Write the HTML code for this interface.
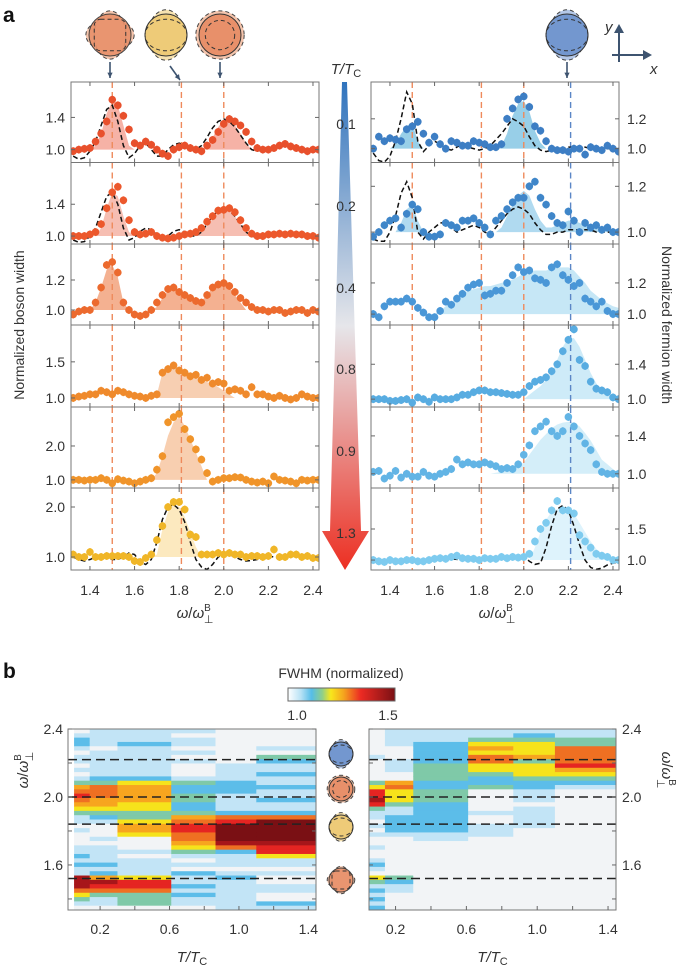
<!DOCTYPE html>
<html><head><meta charset="utf-8"><style>
html,body{margin:0;padding:0;background:#fff}
svg{display:block;font-family:"Liberation Sans",sans-serif}
</style></head><body>
<svg id="fig" width="685" height="968" viewBox="0 0 685 968" xmlns="http://www.w3.org/2000/svg">
<defs>
<linearGradient id="tgrad" x1="0" y1="0" x2="0" y2="1">
<stop offset="0" stop-color="#2f73bd"/><stop offset="0.5" stop-color="#e6e6ea"/><stop offset="1" stop-color="#ec2f22"/>
</linearGradient>
<linearGradient id="cbar" x1="0" y1="0" x2="1" y2="0">
<stop offset="0" stop-color="#ffffff"/><stop offset="0.12" stop-color="#b8e2f5"/><stop offset="0.22" stop-color="#55bde8"/><stop offset="0.32" stop-color="#8fcf8a"/><stop offset="0.4" stop-color="#f8e71c"/><stop offset="0.52" stop-color="#f5a41e"/><stop offset="0.68" stop-color="#ec2a23"/><stop offset="1" stop-color="#7a1014"/>
</linearGradient>
</defs>
<g id="layer"></g>
</svg>
<script>
// ---------- DATA ----------
const omegaGrid=[1.325,1.35,1.375,1.4,1.425,1.45,1.475,1.5,1.525,1.55,1.575,1.6,1.625,1.65,1.675,1.7,1.725,1.75,1.775,1.8,1.825,1.85,1.875,1.9,1.925,1.95,1.975,2.0,2.025,2.05,2.075,2.1,2.125,2.15,2.175,2.2,2.225,2.25,2.275,2.3,2.325,2.35,2.375,2.4,2.425];
const tempLabels=["0.1","0.2","0.4","0.8","0.9","1.3"];
const xTicks=[1.4,1.6,1.8,2.0,2.2,2.4];
const refLines=[1.5,1.81,2.0];
const fermionLine=2.21;

const bosonPts1=[0.98,1.0,1.01,1.02,1.1,1.2,1.35,1.62,1.55,1.42,1.25,1.08,1.05,1.1,1.06,1.0,0.95,0.92,1.0,1.03,1.05,1.02,1.0,0.98,1.05,1.12,1.22,1.32,1.38,1.35,1.3,1.22,1.1,1.02,1.0,1.0,1.02,1.05,1.07,1.04,1.02,1.0,0.98,1.0,1.0];
const bosonFill1=[1,1,1,1,1.05,1.2,1.45,1.6,1.55,1.3,1.05,1,1,1,1,1,1,1,1,1,1,1,1,1,1.05,1.15,1.28,1.37,1.36,1.3,1.2,1.08,1];
const bosonModel1=[0.92,0.88,0.9,0.98,1.1,1.3,1.5,1.55,1.35,1.05,0.9,0.95,1.05,1.08,1.0,0.92,0.92,1.0,1.06,1.08,1.05,1.0,1.0,1.05,1.15,1.27,1.35,1.38,1.35,1.28,1.18,1.08,1.0,0.98,1.0,1.02,1.04,1.05,1.05,1.04,1.03,1.02,1.0,1.0,1.0];

const bosonPts2=[1.0,1.0,1.0,1.02,1.05,1.15,1.35,1.55,1.62,1.45,1.2,1.05,1.02,1.03,1.05,1.0,0.98,0.97,0.98,1.0,1.02,1.03,1.05,1.1,1.18,1.25,1.32,1.33,1.35,1.3,1.2,1.1,1.03,1.0,1.0,1.02,1.02,1.03,1.02,1.03,1.02,1.02,1.0,1.0,0.98];
const bosonFill2=[1,1,1,1,1,1.1,1.35,1.55,1.5,1.25,1.05,1,1,1,1,1,1,1,1,1,1,1,1,1.05,1.12,1.22,1.3,1.35,1.33,1.25,1.15,1.05,1];
const bosonModel2=[0.95,0.92,0.93,1.0,1.1,1.3,1.5,1.55,1.4,1.1,0.95,0.98,1.06,1.1,1.08,1.02,0.98,1.0,1.06,1.08,1.05,1.0,1.0,1.05,1.15,1.25,1.32,1.35,1.32,1.25,1.15,1.05,1.0,0.98,1.0,1.02,1.04,1.05,1.05,1.04,1.03,1.02,1.01,1.0,1.0];

const bosonPts3=[0.97,0.99,1.0,1.0,1.05,1.15,1.3,1.32,1.25,1.05,1.0,0.97,0.96,0.97,1.0,1.05,1.1,1.14,1.15,1.12,1.1,1.08,1.06,1.05,1.1,1.15,1.17,1.18,1.16,1.12,1.08,1.05,1.02,1.0,1.0,0.99,1.0,1.0,0.98,0.99,1.0,1.0,0.98,1.0,0.99];
const bosonFill3=[1,1,1,1,1.05,1.15,1.27,1.3,1.22,1.05,1,1,1,1,1,1.02,1.08,1.13,1.15,1.12,1.1,1.07,1.05,1.06,1.1,1.15,1.17,1.18,1.15,1.1,1.05,1];

const bosonPts4=[1.0,1.02,1.03,1.05,1.05,1.1,1.08,1.05,1.1,1.08,1.05,1.03,1.02,1.0,1.03,1.05,1.35,1.4,1.45,1.38,1.35,1.3,1.32,1.25,1.28,1.2,1.22,1.2,1.1,1.12,1.1,1.05,1.15,1.05,1.05,1.02,1.0,1.03,1.0,0.98,1.0,1.05,1.02,1.0,1.0];
const bosonFill4=[1,1,1,1,1,1,1,1,1,1,1,1,1,1,1,1.05,1.35,1.4,1.42,1.4,1.35,1.3,1.28,1.25,1.22,1.2,1.15,1.1,1.05,1];

const bosonPts5=[1.0,1.0,0.98,1.0,1.0,1.05,1.0,0.9,1.02,0.98,0.95,0.9,0.95,1.0,1.05,1.3,1.7,2.7,2.85,2.95,2.5,2.2,1.9,1.6,1.2,0.95,1.0,1.05,1.05,1.08,1.07,1.0,0.95,0.92,0.95,0.9,1.1,1.0,0.98,0.95,0.9,1.0,0.98,1.0,1.0];
const bosonFill5=[1,1,1,1,1,1,1,1,1,1,1,1,1,1,1.0,1.2,1.7,2.3,2.7,2.85,2.6,2.2,1.8,1.4,1.0,1,1,1.05,1.05,1.05,1.05,1];

const bosonPts6=[1.05,1.0,1.0,1.1,1.0,1.0,1.02,1.02,1.02,1.02,1.0,0.92,0.9,0.98,1.05,1.34,1.62,2.0,2.1,2.1,1.95,1.45,1.4,1.05,1.05,1.05,1.08,1.05,1.08,1.05,1.05,1.0,1.02,1.02,1.0,1.02,1.15,1.0,1.0,1.05,1.05,1.0,1.02,0.98,0.98];
const bosonFill6=[1,1,1,1,1,1,1,1,1,1,1,1,1,1,1,1.05,1.55,1.9,2.05,2.0,1.8,1.5,1.2,1.0];
const bosonModel6=[1.0,0.95,0.92,0.95,1.0,1.05,1.0,0.95,0.95,1.0,1.08,1.05,0.9,0.85,0.95,1.3,1.75,2.0,2.05,1.95,1.7,1.3,0.95,0.8,0.75,0.85,1.0,1.05,1.05,1.0,0.95,0.92,0.93,0.95,1.0,1.02,1.0,0.98,1.0,1.05,1.05,1.02,1.0,0.98,0.97];

const fermionPts1=[1.0,1.08,1.05,1.07,1.06,1.05,1.13,1.15,1.18,1.1,1.04,1.08,1.03,1.0,1.05,1.04,1.02,1.02,1.05,1.04,1.03,1.01,1.01,1.03,1.2,1.27,1.33,1.35,1.28,1.15,1.12,1.05,1.0,0.99,0.99,0.98,1.0,1.0,0.96,1.01,1.0,0.99,1.02,1.0,0.98];
const fermionFill1=[1,1,1,1,1.03,1.1,1.15,1.17,1.05,1,1,1,1,1,1,1,1,1,1,1,1,1,1,1.02,1.1,1.22,1.3,1.32,1.25,1.12,1.04,1];
const fermionModel1=[0.97,0.92,0.91,0.95,1.05,1.2,1.38,1.3,1.05,0.98,1.02,1.05,1.03,1.0,0.99,1.01,1.03,1.01,1.0,0.99,1.0,1.02,1.06,1.1,1.15,1.2,1.18,1.15,1.08,1.02,0.99,0.98,0.99,1.0,1.0,1.01,1.01,1.01,1.01,1.0,1.0,1.0,1.0,1.0,1.0];

const fermionPts2=[0.98,1.0,1.03,1.05,1.06,1.02,1.08,1.12,1.1,1.0,0.98,0.98,0.99,1.04,1.03,1.02,1.05,1.05,1.06,1.04,1.02,0.99,1.05,1.07,1.1,1.13,1.15,1.15,1.2,1.22,1.15,1.12,1.07,1.04,1.03,1.09,1.05,1.0,1.04,1.02,1.03,1.01,1.02,1.0,1.0];
const fermionFill2=[1,1,1,1,1,1.04,1.1,1.12,1.05,1,1,1,1,1,1,1,1,1,1,1,1,1,1,1.02,1.07,1.12,1.16,1.18,1.16,1.1,1.05,1.02,1.02,1.03,1.04,1.05,1.05,1.04,1.03,1.02,1.015,1.01,1.005,1,1];
const fermionModel2=[0.97,0.96,0.96,1.0,1.07,1.17,1.22,1.15,1.0,0.97,1.0,1.02,1.04,1.04,1.02,1.0,1.01,1.02,1.03,1.02,1.0,0.99,1.02,1.05,1.08,1.1,1.11,1.1,1.08,1.04,1.01,0.99,0.99,1.0,1.0,1.01,1.01,1.01,1.01,1.01,1.0,1.0,1.0,1.0,1.0];

const fermionPts3=[1.0,0.98,1.05,1.08,1.08,1.08,1.1,1.08,1.04,1.01,0.98,0.98,1.02,1.08,1.06,1.1,1.13,1.17,1.19,1.2,1.12,1.13,1.15,1.15,1.2,1.25,1.3,1.27,1.28,1.23,1.22,1.2,1.3,1.32,1.25,1.22,1.18,1.2,1.1,1.08,1.05,1.08,1.02,1.0,1.0];
const fermionFill3=[1,1,1,1,1,1,1,1,1,1,1,1,1.02,1.05,1.08,1.1,1.13,1.15,1.16,1.17,1.18,1.18,1.19,1.2,1.21,1.22,1.24,1.26,1.27,1.28,1.28,1.28,1.29,1.3,1.3,1.3,1.28,1.24,1.2,1.15,1.12,1.09,1.07,1.05,1.04];

const fermionPts4=[1.0,1.0,1.0,0.98,0.98,0.99,1.0,0.96,1.02,1.0,0.97,1.02,1.0,1.0,1.0,1.02,1.05,1.05,1.08,1.1,1.1,1.08,1.08,1.07,1.06,1.05,1.05,1.08,1.15,1.2,1.22,1.25,1.32,1.4,1.55,1.68,1.8,1.45,1.38,1.2,1.12,1.1,1.08,1.02,1.0];
const fermionFill4=[1,1,1,1,1,1,1,1,1,1,1,1,1,1,1,1,1,1,1,1,1,1,1,1,1,1,1,1.0,1.05,1.1,1.15,1.22,1.3,1.45,1.6,1.7,1.7,1.6,1.45,1.3,1.18,1.1,1.05,1.02,1];

const fermionPts5=[1.02,1.03,0.95,0.98,1.03,0.96,1.0,0.97,0.97,1.02,0.98,0.97,1.0,1.02,1.05,1.15,1.1,1.12,1.1,1.1,1.12,1.1,1.08,1.05,1.06,1.05,1.1,1.2,1.3,1.45,1.5,1.55,1.45,1.4,1.45,1.6,1.5,1.4,1.32,1.25,1.1,1.02,1.0,1.0,1.0];
const fermionFill5=[1,1,1,1,1,1,1,1,1,1,1,1,1,1,1,1,1,1,1,1,1,1,1.01,1.02,1.03,1.05,1.08,1.12,1.2,1.28,1.36,1.42,1.48,1.52,1.54,1.55,1.54,1.5,1.43,1.35,1.25,1.15,1.1,1.05,1];

const fermionPts6=[1.0,0.98,0.97,1.0,0.98,0.98,1.0,1.0,0.98,0.98,1.0,1.02,1.03,1.02,1.05,1.07,1.03,1.02,1.02,1.0,1.03,1.02,1.02,1.05,1.03,1.05,1.04,1.05,1.1,1.3,1.5,1.6,1.8,1.95,1.8,1.8,1.75,1.4,1.3,1.2,1.1,1.07,1.05,1.0,1.0];
const fermionFill6=[1,1,1,1,1,1,1,1,1,1,1,1,1,1,1,1,1,1,1,1,1,1,1,1,1,1,1,1,1.0,1.2,1.45,1.65,1.78,1.82,1.85,1.82,1.75,1.6,1.45,1.3,1.18,1.1,1.05,1.02,1];
const fermionModel6=[1.0,1.0,1.0,1.0,0.98,1.0,1.0,1.0,0.98,0.99,1.0,1.01,1.01,1.02,1.02,1.01,1.0,1.0,1.01,1.03,1.02,1.0,1.01,1.05,1.06,1.04,1.02,1.08,0.98,0.93,0.95,1.2,1.55,1.82,1.88,1.8,1.55,1.25,1.0,0.88,0.85,0.87,0.92,0.95,0.97];

// heatmap: levels 0-9 per omega bin (top 2.40 -> bottom), 6 temperature columns
const heatBins=42;
const heatColEdges=[0.05,0.14,0.3,0.61,0.865,1.1,1.455];
const heatTicks=[0.2,0.6,1.0,1.4];
const heatYTicks=[2.4,2.0,1.6];
const heatLines=[2.22,2.0,1.84,1.52];
const bosonHeat=[
"012210110101356765431101000112121188864310",
"111101111112366655432100010111121258763110",
"111211111112455554433455400010111147763330",
"101101010001322332235677665431010211212110",
"000000001111222111126799998621110121111111",
"000010321121121121126999998774110100110021"];
const fermionHeat=[
"000000100000347787311010100100121043121212",
"111100011100564443112222100000000032110000",
"111222223333223332222222110000000000000000",
"113454664432230000010011100000000000000000",
"123444534443221110111110000000000000000000",
"113366667543210000000000000000000000000000"];

// ---------- HELPERS ----------
const NS="http://www.w3.org/2000/svg";
const root=document.getElementById('layer');
function mk(tag,attrs,parent,text){const e=document.createElementNS(NS,tag);for(const k in attrs)e.setAttribute(k,attrs[k]);if(text!==undefined)e.textContent=text;(parent||root).appendChild(e);return e;}
function padTo(a,n){const r=a.slice(0,n);while(r.length<n)r.push(1);return r;}

const rowTops=[82,162.5,244,325,407,488,570];
const leftX=[71,319], rightX=[371,619];
const xDomain=[1.315,2.427];
const leftScales=[[0.84,1.84],[0.9,1.925],[0.9,1.44],[0.875,2.01],[0.76,3.15],[0.74,2.38]];
const rightScales=[[0.907,1.447],[0.948,1.304],[0.93,1.45],[0.91,1.85],[0.85,1.705],[0.84,2.16]];
const leftTicks=[[1.0,1.4],[1.0,1.4],[1.0,1.2],[1.0,1.5],[1.0,2.0],[1.0,2.0]];
const rightTicks=[[1.0,1.2],[1.0,1.2],[1.0,1.2],[1.0,1.4],[1.0,1.4],[1.0,1.5]];
const leftCol=[["#e8502c","#f4a496"],["#ec582c","#f5b3a4"],["#ec6a2e","#f2a37e"],["#ef8a2c","#f6c7a4"],["#f0942a","#f7c7a2"],["#f0b628","#fbe5b4"]];
const rightCol=[["#3d7ec4","#86c7e4"],["#3f86c9","#a2d4ed"],["#4a97d7","#bce3f5"],["#58ace1","#c6e8f7"],["#62b4e5","#ccebf8"],["#7ecbef","#d8f1fb"]];
const bosonPts=[bosonPts1,bosonPts2,bosonPts3,bosonPts4,bosonPts5,bosonPts6];
const bosonFill=[bosonFill1,bosonFill2,bosonFill3,bosonFill4,bosonFill5,bosonFill6];
const bosonModel=[bosonModel1,bosonModel2,null,null,null,bosonModel6];
const fermionPts=[fermionPts1,fermionPts2,fermionPts3,fermionPts4,fermionPts5,fermionPts6];
const fermionFill=[fermionFill1,fermionFill2,fermionFill3,fermionFill4,fermionFill5,fermionFill6];
const fermionModel=[fermionModel1,fermionModel2,null,null,null,fermionModel6];

function drawPanel(side,i,xr,ys,ticks,cols,pts,fill,model){
  const g=mk('g',{});
  
  
  const y0=rowTops[i],y1=rowTops[i+1];
  const sx=w=>xr[0]+(w-xDomain[0])/(xDomain[1]-xDomain[0])*(xr[1]-xr[0]);
  const sy=v=>y1-(v-ys[0])/(ys[1]-ys[0])*(y1-y0);
  const cp=mk('clipPath',{id:'cp'+side+i},g);mk('rect',{x:xr[0],y:y0,width:xr[1]-xr[0],height:y1-y0},cp);
  const inner=mk('g',{'clip-path':'url(#cp'+side+i+')'},g);
  const f=padTo(fill,omegaGrid.length);
  let d='M'+sx(omegaGrid[0])+','+sy(1);
  omegaGrid.forEach((w,k)=>{d+=' L'+sx(w).toFixed(1)+','+sy(f[k]).toFixed(1);});
  d+=' L'+sx(omegaGrid[omegaGrid.length-1])+','+sy(1)+'Z';
  const fp=mk('path',{d:d,fill:cols[1],opacity:0.85},inner);
  
  
  refLines.forEach(w=>{mk('line',{x1:sx(w),x2:sx(w),y1:y0,y2:y1,stroke:'#ee8a5c','stroke-width':1.4,'stroke-dasharray':'6,4'},inner);});
  if(side==='fermion'){mk('line',{x1:sx(fermionLine),x2:sx(fermionLine),y1:y0,y2:y1,stroke:'#5b86c6','stroke-width':1.4,'stroke-dasharray':'6,4'},inner);}
  if(model){
    let md='';omegaGrid.forEach((w,k)=>{md+=(k?' L':'M')+sx(w).toFixed(1)+','+sy(model[k]).toFixed(1);});
    const mp=mk('path',{d:md,fill:'none',stroke:'#111','stroke-width':1.5,'stroke-dasharray':'5,3'},inner);
    
    
  }
  omegaGrid.forEach((w,k)=>{
    const cx=sx(w),cy=sy(pts[k]);
    mk('line',{x1:cx,x2:cx,y1:cy-4,y2:cy+4,stroke:cols[0],'stroke-width':1.5,opacity:0.8},inner);
    const c=mk('circle',{cx:cx,cy:cy,r:3.8,fill:cols[0]},inner);
    
    
  });
  mk('rect',{x:xr[0],y:y0,width:xr[1]-xr[0],height:y1-y0,fill:'none',stroke:'#777','stroke-width':1},g);
  xTicks.forEach(w=>{mk('line',{x1:sx(w),x2:sx(w),y1:y1,y2:y1-4,stroke:'#666'},g);mk('line',{x1:sx(w),x2:sx(w),y1:y0,y2:y0+4,stroke:'#666'},g);});
  ticks.forEach(t=>{const yy=sy(t);mk('line',{x1:xr[0],x2:xr[0]+4,y1:yy,y2:yy,stroke:'#666'},g);mk('line',{x1:xr[1],x2:xr[1]-4,y1:yy,y2:yy,stroke:'#666'},g);
    const lx=side==='boson'?xr[0]-6:xr[1]+8;
    mk('text',{x:lx,y:yy+5,'font-size':14,fill:'#333','text-anchor':side==='boson'?'end':'start'},g,t.toFixed(1));});
  if(i===5){xTicks.forEach(w=>{mk('text',{x:sx(w),y:595,'font-size':14,fill:'#333','text-anchor':'middle'},g,w.toFixed(1));});}
}
for(let i=0;i<6;i++){
  drawPanel('boson',i,leftX,leftScales[i],leftTicks[i],leftCol[i],bosonPts[i],bosonFill[i],bosonModel[i]);
  drawPanel('fermion',i,rightX,rightScales[i],rightTicks[i],rightCol[i],fermionPts[i],fermionFill[i],fermionModel[i]);
}

// ---------- ICONS ----------
function icon(cx,cy,r,fillc,halo,shape,name){
  const g=mk('g',{});
  
  
  if(shape==='diamond'){
    mk('ellipse',{cx:cx,cy:cy,rx:r*1.15,ry:r*0.75,fill:halo,stroke:'#444','stroke-dasharray':'4,3'},g);
    mk('ellipse',{cx:cx,cy:cy,rx:r*0.75,ry:r*1.15,fill:halo,stroke:'#444','stroke-dasharray':'4,3'},g);
    mk('circle',{cx:cx,cy:cy,r:r,fill:fillc,opacity:0.9,stroke:'#333'},g);
    mk('rect',{x:cx-r*0.75,y:cy-r*0.75,width:r*1.5,height:r*1.5,rx:r*0.3,fill:'none',stroke:'#333','stroke-dasharray':'4,3'},g);
  }else if(shape==='ring'){
    mk('circle',{cx:cx,cy:cy,r:r*1.15,fill:halo,stroke:'#444','stroke-dasharray':'4,3'},g);
    mk('circle',{cx:cx,cy:cy,r:r,fill:fillc,stroke:'#333'},g);
    mk('circle',{cx:cx,cy:cy,r:r*0.7,fill:'none',stroke:'#333','stroke-dasharray':'4,3'},g);
  }else{
    mk('ellipse',{cx:cx,cy:cy,rx:r*0.85,ry:r*1.2,fill:halo,stroke:'#444','stroke-dasharray':'4,3'},g);
    mk('circle',{cx:cx,cy:cy,r:r,fill:fillc,stroke:'#333'},g);
    mk('ellipse',{cx:cx,cy:cy,rx:r*1.0,ry:r*0.75,fill:'none',stroke:'#333','stroke-dasharray':'4,3'},g);
  }
}
icon(110,35,21,'#e8906a','#f4c4ac','diamond','icon-quadrupole');
icon(166,35,21,'#eecb78','#f6e2b0','squash','icon-monopole-y');
icon(220,35,21,'#e8906a','#f4c4ac','ring','icon-breathing');
icon(567,35,21,'#7397cf','#b4c8e8','squash','icon-fermion-mode');
function arrow(x1,y1,x2,y2){mk('line',{x1:x1,y1:y1,x2:x2,y2:y2,stroke:'#3e5470','stroke-width':1.6});
  const a=Math.atan2(y2-y1,x2-x1);const p=[[x2,y2],[x2-6*Math.cos(a-0.45),y2-6*Math.sin(a-0.45)],[x2-6*Math.cos(a+0.45),y2-6*Math.sin(a+0.45)]];
  mk('polygon',{points:p.map(q=>q.join(',')).join(' '),fill:'#3e5470'});}
arrow(110,62,110,78);arrow(170,66,180,80);arrow(220,62,220,78);arrow(567,62,567,78);
mk('line',{x1:612,y1:55,x2:650,y2:55,stroke:'#3e5470','stroke-width':2});
mk('polygon',{points:'652,55 643,50 643,60',fill:'#3e5470'});
mk('line',{x1:619,y1:62,x2:619,y2:27,stroke:'#3e5470','stroke-width':2});
mk('polygon',{points:'619,24 614,33 624,33',fill:'#3e5470'});
mk('text',{x:605,y:32,'font-size':15,'font-style':'italic',fill:'#333'},root,'y');
mk('text',{x:650,y:74,'font-size':15,'font-style':'italic',fill:'#333'},root,'x');

// ---------- TEMPERATURE ARROW ----------
const ta=mk('path',{d:'M342,82 L347,82 L361,531 L369,531 L345,570 L322,531 L330,531 Z',fill:'url(#tgrad)'});


const tL=mk('text',{x:346,y:74,'font-size':15,'font-style':'italic',fill:'#333','text-anchor':'middle'},root);
tL.innerHTML='T/T<tspan font-size="11" dy="3" font-style="normal">C</tspan>';
const tempY=[124,206,288,369,451,533];
tempLabels.forEach((t,k)=>{mk('text',{x:346,y:tempY[k]+5,'font-size':14,fill:'#333','text-anchor':'middle'},root,t);});

// labels
mk('text',{x:3,y:22,'font-size':21,'font-weight':'bold',fill:'#111'},root,'a');
mk('text',{x:3,y:678,'font-size':21,'font-weight':'bold',fill:'#111'},root,'b');
mk('text',{x:0,y:0,'font-size':14,fill:'#333','text-anchor':'middle',transform:'translate(24,325) rotate(-90)'},root,'Normalized boson width');
mk('text',{x:0,y:0,'font-size':14,fill:'#333','text-anchor':'middle',transform:'translate(662,325) rotate(90)'},root,'Normalized fermion width');
[195,497].forEach(cx=>{const t=mk('text',{x:cx,y:618,'font-size':15,fill:'#333','text-anchor':'middle'},root);
  t.innerHTML='<tspan font-style="italic">ω</tspan>/<tspan font-style="italic">ω</tspan><tspan font-size="10" dy="-7">B</tspan><tspan font-size="11" dx="-7" dy="12">⊥</tspan>';});

// ---------- HEATMAPS ----------
const heatColors=["#f2f4f6","#c2e4f6","#5cbde9","#7fc9a8","#f6e31b","#f7a51f","#ef7022","#e52522","#a7161a","#7a1014"];
function heatmap(side,data,xr,tRange){
  const g=mk('g',{});
  
  
  const y0=729,y1=910;
  const st=t=>xr[0]+(t-tRange[0])/(tRange[1]-tRange[0])*(xr[1]-xr[0]);
  const om=w=>y0+(2.4-w)/(2.4-1.335)*(y1-y0);
  const bh=(y1-y0)/heatBins;
  data.forEach((col,c)=>{
    const xa=Math.max(xr[0],st(heatColEdges[c])),xb=Math.min(xr[1],st(heatColEdges[c+1]));
    for(let b=0;b<heatBins;b++){
      const lv=+(col[b]||'0');
      const r=mk('rect',{x:xa,y:y0+b*bh,width:xb-xa+0.4,height:bh+0.4,fill:heatColors[lv]},g);
      
      
    }
  });
  heatLines.forEach(w=>{mk('line',{x1:xr[0],x2:xr[1],y1:om(w),y2:om(w),stroke:'#222','stroke-width':1.5,'stroke-dasharray':'9,5'},g);});
  mk('rect',{x:xr[0],y:y0,width:xr[1]-xr[0],height:y1-y0,fill:'none',stroke:'#777'},g);
  [0.2,0.4,0.6,0.8,1.0,1.2,1.4].forEach(t=>{mk('line',{x1:st(t),x2:st(t),y1:y1,y2:y1-4,stroke:'#666'},g);});
  heatTicks.forEach(t=>{mk('text',{x:st(t),y:934,'font-size':14,fill:'#333','text-anchor':'middle'},g,t.toFixed(1));});
  [2.4,2.2,2.0,1.8,1.6,1.4].forEach(w=>{mk('line',{x1:xr[0],x2:xr[0]+4,y1:om(w),y2:om(w),stroke:'#666'},g);mk('line',{x1:xr[1],x2:xr[1]-4,y1:om(w),y2:om(w),stroke:'#666'},g);});
  heatYTicks.forEach(w=>{const lx=side==='boson'?xr[0]-5:xr[1]+6;
    mk('text',{x:lx,y:om(w)+5,'font-size':14,fill:'#333','text-anchor':side==='boson'?'end':'start'},g,w.toFixed(1));});
  const tl=mk('text',{x:(xr[0]+xr[1])/2,y:962,'font-size':15,'font-style':'italic',fill:'#333','text-anchor':'middle'},g);
  tl.innerHTML='T/T<tspan font-size="11" dy="3" font-style="normal">C</tspan>';
}
heatmap('boson',bosonHeat,[68,316],[0.015,1.444]);
heatmap('fermion',fermionHeat,[369,616],[0.05,1.445]);
const yl1=mk('text',{x:0,y:0,'font-size':15,fill:'#333','text-anchor':'middle',transform:'translate(28,770) rotate(-90)'},root);
yl1.innerHTML='<tspan font-style="italic">ω</tspan>/<tspan font-style="italic">ω</tspan><tspan font-size="10" dy="-7">B</tspan><tspan font-size="11" dx="-7" dy="12">⊥</tspan>';
const yl2=mk('text',{x:0,y:0,'font-size':15,fill:'#333','text-anchor':'middle',transform:'translate(662,770) rotate(90)'},root);
yl2.innerHTML='<tspan font-style="italic">ω</tspan>/<tspan font-style="italic">ω</tspan><tspan font-size="10" dy="-7">B</tspan><tspan font-size="11" dx="-7" dy="12">⊥</tspan>';
// colorbar
mk('text',{x:341,y:678,'font-size':14,fill:'#333','text-anchor':'middle'},root,'FWHM (normalized)');
const cb=mk('rect',{x:288,y:688,width:107,height:13,fill:'url(#cbar)',stroke:'#666'});


mk('text',{x:297,y:720,'font-size':14,fill:'#333','text-anchor':'middle'},root,'1.0');
mk('text',{x:388,y:720,'font-size':14,fill:'#333','text-anchor':'middle'},root,'1.5');
icon(341,754,12,'#7397cf','#b4c8e8','squash','legend-icon-fermion');
icon(341,789,12,'#e8906a','#f4c4ac','ring','legend-icon-breathing');
icon(341,827,12,'#eecb78','#f6e2b0','squash','legend-icon-monopole');
icon(341,880,12,'#e8906a','#f4c4ac','diamond','legend-icon-quadrupole');
</script>
</body></html>
